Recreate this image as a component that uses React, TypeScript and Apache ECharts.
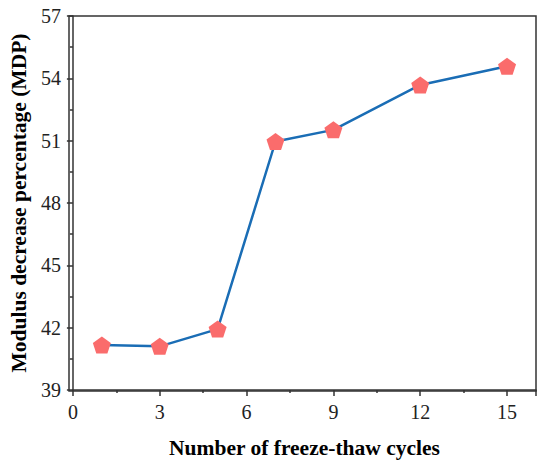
import React, { useEffect, useRef } from "react";
import * as echarts from "echarts";

const cycles = [1, 3, 5, 7, 9, 12, 15];
const mdp = [41.16, 41.1, 41.93, 50.96, 51.52, 53.68, 54.58];
const xTicks = [0, 3, 6, 9, 12, 15];
const yTicks = [39, 42, 45, 48, 51, 54, 57];

const FONT = '"Liberation Serif", "Times New Roman", serif';
const pentagon =
  "path://M0,-1L0.9511,-0.309L0.5878,0.809L-0.5878,0.809L-0.9511,-0.309Z";

export default function App() {
  const ref = useRef<HTMLDivElement>(null);
  useEffect(() => {
    if (!ref.current) return;
    const chart = echarts.init(ref.current, null, { renderer: "svg" });
    chart.setOption({
      animation: false,
      backgroundColor: "#ffffff",
      grid: { left: 69, top: 16, right: 14, bottom: 73, show: false },
      xAxis: {
        type: "value",
        min: 0,
        max: 16,
        interval: 3,
        name: "Number of freeze-thaw cycles",
        nameLocation: "middle",
        nameGap: 47,
        nameTextStyle: { fontFamily: FONT, fontSize: 21.5, fontWeight: "bold", color: "#000" },
        axisLine: { show: true, onZero: false, lineStyle: { color: "#333", width: 1.5 } },
        axisTick: { show: true, inside: false, length: 6, lineStyle: { color: "#333", width: 1.5 } },
        minorTick: { show: true, splitNumber: 2, length: 3, lineStyle: { color: "#333", width: 1.5 } },
        axisLabel: {
          fontFamily: FONT,
          fontSize: 20,
          color: "#222",
          margin: 12,
          showMaxLabel: false,
          formatter: (v: number) => (xTicks.includes(v) ? String(v) : ""),
        },
        splitLine: { show: false },
      },
      yAxis: {
        type: "value",
        min: 39,
        max: 57,
        interval: 3,
        name: "Modulus decrease percentage (MDP)",
        nameLocation: "middle",
        nameGap: 40,
        nameTextStyle: { fontFamily: FONT, fontSize: 21.5, fontWeight: "bold", color: "#000" },
        axisLine: { show: true, onZero: false, lineStyle: { color: "#333", width: 1.5 } },
        axisTick: { show: true, inside: false, length: 6, lineStyle: { color: "#333", width: 1.5 } },
        minorTick: { show: true, splitNumber: 2, length: 3, lineStyle: { color: "#333", width: 1.5 } },
        axisLabel: {
          fontFamily: FONT,
          fontSize: 20,
          color: "#222",
          margin: 12,
          formatter: (v: number) => (yTicks.includes(v) ? String(v) : ""),
        },
        splitLine: { show: false },
      },
      graphic: [
        {
          type: "rect",
          shape: { x: 69, y: 16, width: 467, height: 375 },
          style: { fill: "none", stroke: "#333", lineWidth: 1.5 },
          silent: true,
          z: 0,
        },
      ],
      series: [
        {
          type: "line",
          data: cycles.map((c, i) => [c, mdp[i]]),
          lineStyle: { color: "#1a6db5", width: 2.5 },
          itemStyle: { color: "#fa6c6c" },
          symbol: pentagon,
          symbolSize: [18, 17],
          z: 3,
        },
      ],
    });
    return () => chart.dispose();
  }, []);
  return (
    <div
      ref={ref}
      style={{ position: "fixed", left: 0, top: 0, width: 550, height: 464, background: "#fff" }}
    />
  );
}
